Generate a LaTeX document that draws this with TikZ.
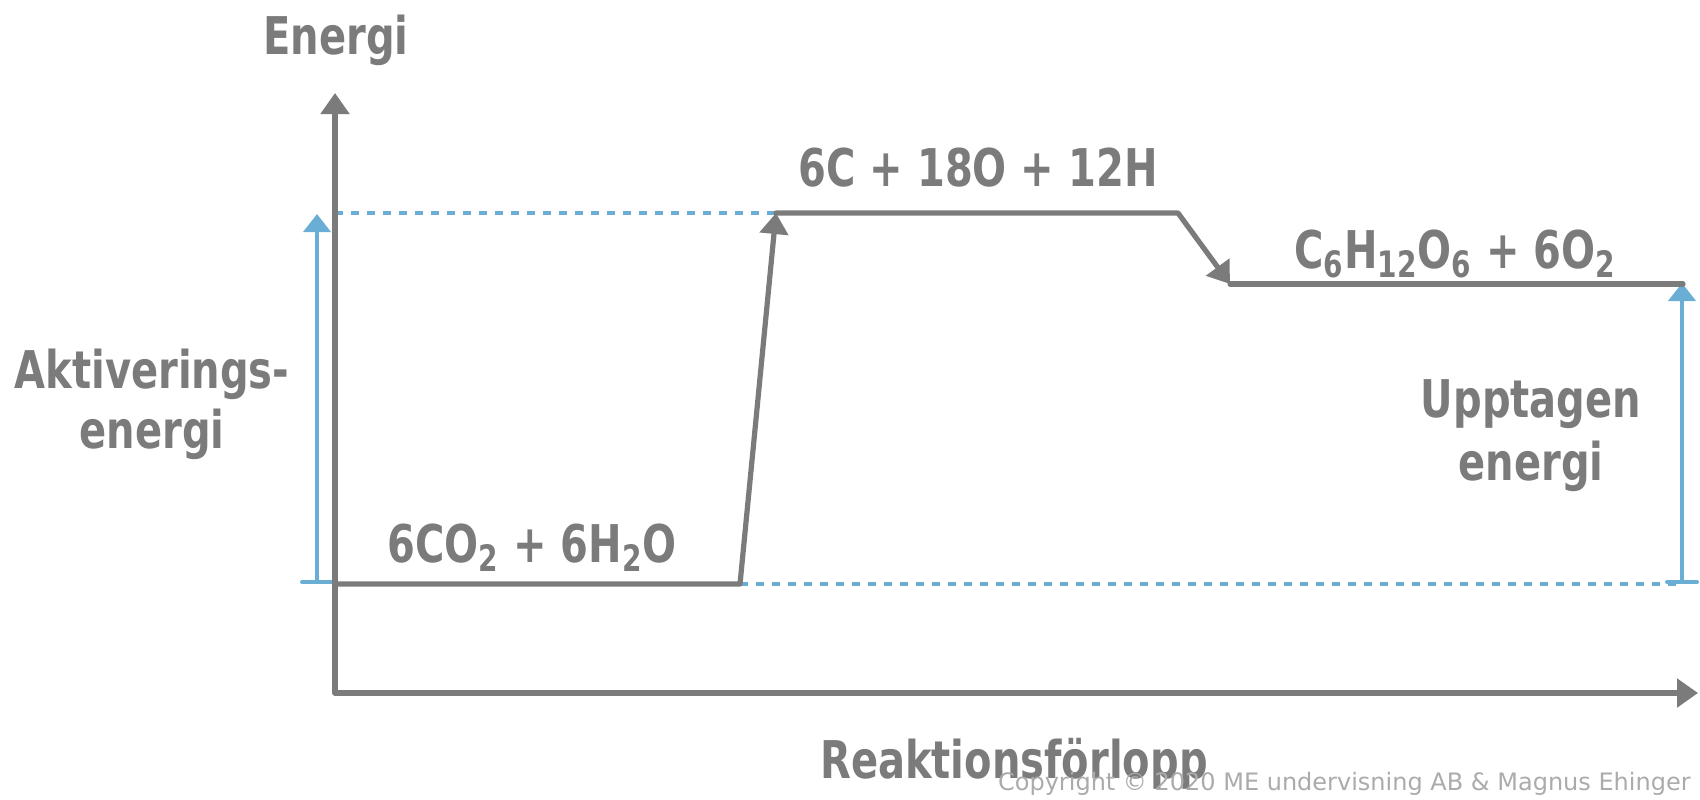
\documentclass[tikz,border=0pt]{standalone}
\usepackage{fontspec}
\newfontfamily\hand[FakeStretch=0.77]{DejaVu Sans}
\newfontfamily\copyfont{DejaVu Sans}
\usetikzlibrary{arrows.meta}
\definecolor{lg}{HTML}{7B7B7B}
\definecolor{lb}{HTML}{6AAED6}
\definecolor{cp}{HTML}{ABABAB}
\begin{document}
\begin{tikzpicture}[x=0.5pt,y=-0.5pt,
  gline/.style={draw=lg, line width=2.6pt, line cap=round, line join=round},
  garrow/.style={gline, -{Triangle[length=10.5pt,width=14pt]}},
  bdash/.style={draw=lb, line width=2pt, dash pattern=on 3.75pt off 4.25pt},
  barrow/.style={draw=lb, line width=2pt, {Bar[width=15pt,line cap=round]}-{Triangle[length=9pt,width=13.5pt]}},
  lbl/.style={text=lg, font=\hand\bfseries\fontsize{26}{30}\selectfont, inner sep=0pt, anchor=base},
  cpy/.style={text=cp, font=\copyfont\fontsize{12}{14}\selectfont, inner sep=0pt, anchor=base east}]
\useasboundingbox (0,0) rectangle (1700,799);
% coordinates
\coordinate (O) at (335,693);
\coordinate (Ytip) at (335,93);
\coordinate (Xtip) at (1698,693);
\coordinate (A) at (335,584);
\coordinate (B) at (740,584);
\coordinate (C) at (776,213);
\coordinate (D) at (1178,213);
\coordinate (E) at (1230,284);
\coordinate (F) at (1683,284);
\coordinate (Dl) at (335,213);
\coordinate (L0) at (317,584);
\coordinate (L1) at (317,214);
\coordinate (R0) at (1682,584);
\coordinate (R1) at (1682,283);
% blue guides
\draw[bdash] (Dl) -- (C);
\draw[bdash] (B) -- (R0);
\draw[barrow] (L0) -- (L1);
\draw[barrow] (R0) -- (R1);
% axes
\draw[garrow] (O) -- (Ytip);
\draw[garrow] (O) -- (Xtip);
% energy path
\draw[garrow] (A) -- (B) -- (C);
\draw[garrow] (C) -- (D) -- (E);
\draw[gline] (E) -- (F);
% labels
\node[lbl] (energi) at (336,54) {Energi};
\node[lbl] (top) at (978,186) {6C + 18O + 12H};
\node[lbl] (prod) at (1455,268) {C\textsubscript{6}H\textsubscript{12}O\textsubscript{6} + 6O\textsubscript{2}};
\node[lbl] (akt1) at (152,388) {Aktiverings-};
\node[lbl] (akt2) at (152,448) {energi};
\node[lbl] (upp1) at (1531,417) {Upptagen};
\node[lbl] (upp2) at (1531,480) {energi};
\node[lbl] (reac) at (532,562) {6CO\textsubscript{2} + 6H\textsubscript{2}O};
\node[lbl] (xlab) at (1014,778) {Reaktionsförlopp};
\node[cpy] (copy) at (1691,790) {Copyright © 2020 ME undervisning AB \& Magnus Ehinger};
\end{tikzpicture}
\end{document}
